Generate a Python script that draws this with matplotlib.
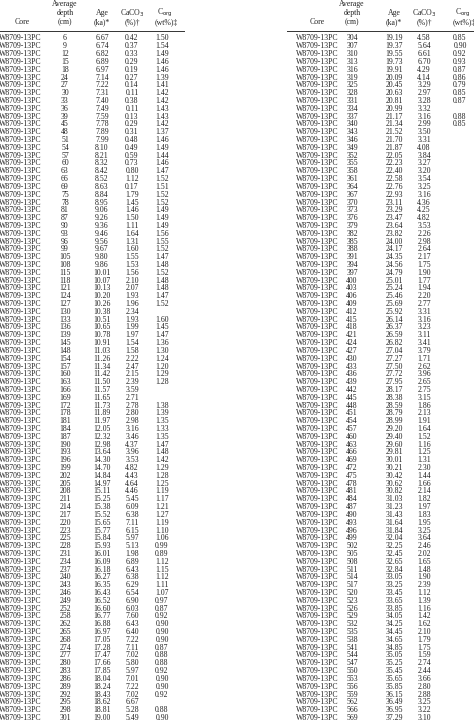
import matplotlib
matplotlib.use('Agg')
import matplotlib.pyplot as plt

core = "W8709-13PC"

left_depth = [6, 9, 12, 15, 18, 24, 27, 30, 33, 36, 39, 45, 48, 51, 54, 57, 60, 63, 66, 69,
              75, 78, 81, 87, 90, 93, 96, 99, 105, 108, 115, 118, 121, 124, 127, 130, 133, 136, 139, 145, 148, 154,
              157, 160, 163, 166, 169, 172, 178, 181, 184, 187, 190, 193, 196, 199, 202, 205, 208, 211, 214, 217, 220, 223,
              225, 228, 231, 234, 237, 240, 243, 246, 249, 252, 258, 262, 265, 268, 274, 277, 280, 283, 286, 289, 292, 295, 298, 301]
left_age = ["6.67", "6.74", "6.82", "6.89", "6.97", "7.14", "7.22", "7.31", "7.40", "7.49", "7.59", "7.78", "7.89", "7.99", "8.10", "8.21", "8.32", "8.42", "8.52", "8.63",
            "8.84", "8.95", "9.06", "9.26", "9.36", "9.46", "9.56", "9.67", "9.80", "9.86", "10.01", "10.07", "10.13", "10.20", "10.26", "10.38", "10.51", "10.65", "10.78", "10.91", "11.03", "11.26",
            "11.34", "11.42", "11.50", "11.57", "11.65", "11.73", "11.89", "11.97", "12.05", "12.32", "12.98", "13.64", "14.30", "14.70", "14.84", "14.97", "15.11", "15.25", "15.38", "15.52", "15.65", "15.77",
            "15.84", "15.93", "16.01", "16.09", "16.18", "16.27", "16.35", "16.43", "16.52", "16.60", "16.77", "16.88", "16.97", "17.05", "17.28", "17.47", "17.66", "17.85", "18.04", "18.24", "18.43", "18.62", "18.81", "19.00"]
left_caco3 = ["0.42", "0.37", "0.33", "0.29", "0.19", "0.27", "0.14", "0.11", "0.38", "0.11", "0.13", "0.29", "0.31", "0.48", "0.49", "0.59", "0.73", "0.80", "1.12", "0.17",
              "1.79", "1.45", "1.46", "1.50", "1.11", "1.64", "1.31", "1.60", "1.55", "1.53", "1.56", "2.10", "2.07", "1.93", "1.96", "2.34", "1.93", "1.99", "1.97", "1.54", "1.58", "2.22",
              "2.47", "2.15", "2.39", "3.59", "2.71", "2.78", "2.80", "2.98", "3.16", "3.46", "4.37", "3.96", "3.53", "4.82", "4.43", "4.64", "4.46", "5.45", "6.09", "6.38", "7.11", "6.15",
              "5.97", "5.13", "1.98", "6.89", "6.43", "6.38", "6.29", "6.54", "6.90", "6.03", "7.60", "6.43", "6.40", "7.22", "7.11", "7.02", "5.80", "5.97", "7.01", "7.22", "7.02", "6.67", "5.28", "5.49"]
left_corg = ["1.50", "1.54", "1.49", "1.46", "1.46", "1.39", "1.41", "1.42", "1.42", "1.43", "1.43", "1.42", "1.37", "1.46", "1.49", "1.44", "1.46", "1.47", "1.52", "1.51",
             "1.52", "1.52", "1.49", "1.49", "1.49", "1.56", "1.55", "1.52", "1.47", "1.48", "1.52", "1.48", "1.48", "1.47", "1.52", "", "1.60", "1.45", "1.47", "1.36", "1.30", "1.24",
             "1.20", "1.29", "1.28", "", "", "1.38", "1.39", "1.35", "1.33", "1.35", "1.47", "1.48", "1.42", "1.29", "1.28", "1.25", "1.19", "1.17", "1.21", "1.27", "1.19", "1.10",
             "1.06", "0.99", "0.89", "1.12", "1.15", "1.12", "1.11", "1.07", "0.97", "0.87", "0.92", "0.90", "0.90", "0.90", "0.87", "0.88", "0.88", "0.92", "0.90", "0.90", "0.92", "", "0.88", "0.90"]

right_depth = [304, 307, 310, 313, 316, 319, 325, 328, 331, 334, 337, 340, 343, 346, 349, 352, 355, 358, 361, 364,
               367, 370, 373, 376, 379, 382, 385, 388, 391, 394, 397, 400, 403, 406, 409, 412, 415, 418, 421, 424, 427, 430,
               433, 436, 439, 442, 445, 448, 451, 454, 457, 460, 463, 466, 469, 472, 475, 478, 481, 484, 487, 490, 493, 496,
               499, 502, 505, 508, 511, 514, 517, 520, 523, 526, 529, 532, 535, 538, 541, 544, 547, 550, 553, 556, 559, 562, 566, 569]
right_age = ["19.19", "19.37", "19.55", "19.73", "19.91", "20.09", "20.45", "20.63", "20.81", "20.99", "21.17", "21.34", "21.52", "21.70", "21.87", "22.05", "22.23", "22.40", "22.58", "22.76",
             "22.93", "23.11", "23.29", "23.47", "23.64", "23.82", "24.00", "24.17", "24.35", "24.56", "24.79", "25.01", "25.24", "25.46", "25.69", "25.92", "26.14", "26.37", "26.59", "26.82", "27.04", "27.27",
             "27.50", "27.72", "27.95", "28.17", "28.38", "28.59", "28.79", "28.99", "29.20", "29.40", "29.60", "29.81", "30.01", "30.21", "30.42", "30.62", "30.82", "31.03", "31.23", "31.43", "31.64", "31.84",
             "32.04", "32.25", "32.45", "32.65", "32.84", "33.05", "33.25", "33.45", "33.65", "33.85", "34.05", "34.25", "34.45", "34.65", "34.85", "35.05", "35.25", "35.45", "35.65", "35.85", "36.15", "36.49", "36.95", "37.29"]
right_caco3 = ["4.58", "5.64", "6.61", "6.70", "4.29", "4.14", "3.29", "2.97", "3.28", "3.32", "3.16", "2.99", "3.50", "3.31", "4.08", "3.84", "3.27", "3.20", "3.54", "3.25",
               "3.16", "4.36", "4.25", "4.82", "3.53", "2.26", "2.98", "2.64", "2.17", "1.75", "1.90", "1.77", "1.94", "2.20", "2.77", "3.31", "3.16", "3.23", "3.11", "3.41", "3.79", "1.71",
               "2.62", "3.96", "2.65", "2.75", "3.15", "1.86", "2.13", "1.91", "1.64", "1.52", "1.16", "1.25", "1.31", "2.30", "1.44", "1.66", "2.14", "1.82", "1.97", "1.83", "1.95", "3.25",
               "3.64", "2.46", "2.02", "1.65", "1.48", "1.90", "2.39", "1.12", "1.39", "1.16", "1.42", "1.62", "2.10", "1.79", "1.75", "1.59", "2.74", "2.44", "3.66", "2.80", "2.88", "3.25", "3.22", "3.10"]
right_corg = ["0.85", "0.90", "0.92", "0.93", "0.87", "0.86", "0.79", "0.85", "0.87", "", "0.88", "0.85"] + [""] * 76

W, H = 474, 722
fig = plt.figure(figsize=(W / 100, H / 100), dpi=100)
ax = fig.add_axes([0, 0, 1, 1])
ax.set_xlim(0, W)
ax.set_ylim(H, 0)
ax.axis('off')

fs = 5.6
font = dict(family='Liberation Serif', fontsize=fs, color='#222222')
y0, dy = 38.5, 7.81


def draw_half(xcore, xd, xa, xc, xo, line_x, depth, age, caco3, corg, core_x):
    # header
    ax.text(xcore, 22, "Core", ha='center', va='center', **font)
    ax.text(xd, 4, "Average", ha='center', va='center', **font)
    ax.text(xd, 13, "depth", ha='center', va='center', **font)
    ax.text(xd, 22, "(cm)", ha='center', va='center', **font)
    ax.text(xa, 13, "Age", ha='center', va='center', **font)
    ax.text(xa, 22, "(ka)*", ha='center', va='center', **font)
    ax.text(xc, 13, r"CaCO$_3$", ha='center', va='center', **font)
    ax.text(xc, 22, "(%)\u2020", ha='center', va='center', **font)
    ax.text(xo + 3, 13, r"C$_{\rm org}$", ha='center', va='center', **font)
    ax.text(xo + 4, 22, "(wt%)\u2021", ha='center', va='center', **font)
    ax.plot(line_x, [31, 31], color='#333333', lw=0.7)
    for i in range(len(depth)):
        y = y0 + i * dy
        ax.text(core_x, y, core, ha='left', va='center', **font)
        ax.text(xd, y, str(depth[i]), ha='center', va='center', **font)
        ax.text(xa, y, age[i], ha='center', va='center', **font)
        ax.text(xc, y, caco3[i], ha='center', va='center', **font)
        if corg[i]:
            ax.text(xo, y, corg[i], ha='center', va='center', **font)


draw_half(22, 65, 102, 132, 162, [0, 184], left_depth, left_age, left_caco3, left_corg, -1)
draw_half(317, 352, 394, 424, 460, [287, 474], right_depth, right_age, right_caco3, right_corg, 296)

plt.savefig("out.png", dpi=100, facecolor='white')
